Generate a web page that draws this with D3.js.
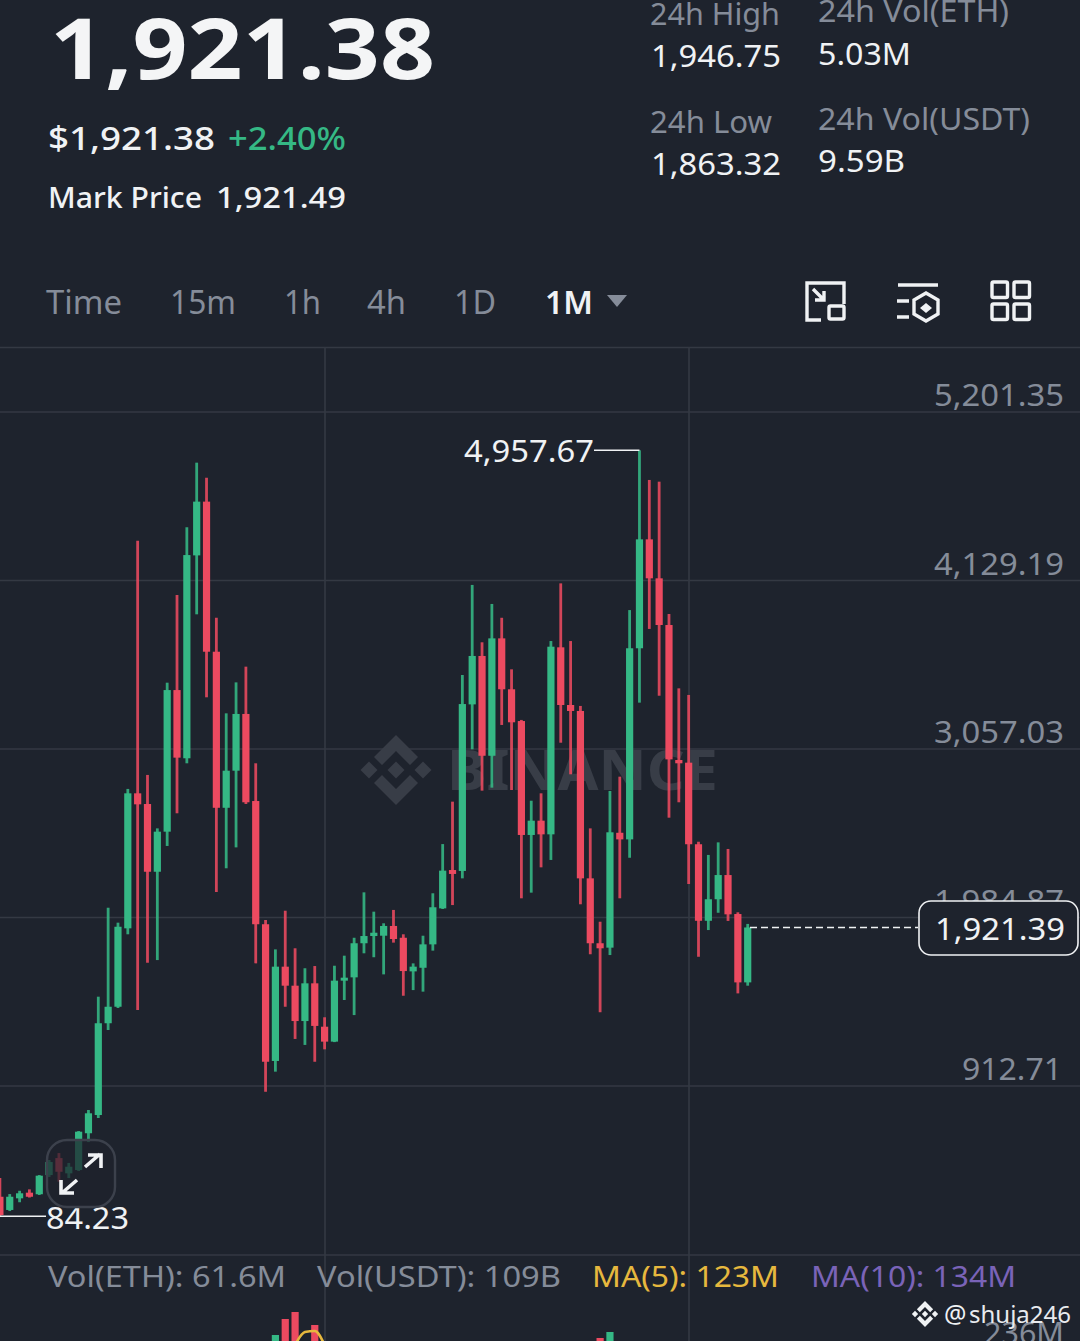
<!DOCTYPE html>
<html><head><meta charset="utf-8">
<script src="https://cdn.jsdelivr.net/npm/d3@7/dist/d3.min.js"></script>
<style>html,body{margin:0;padding:0;background:#1e232d;overflow:hidden}svg{display:block}text{font-family:"Noto Sans",sans-serif}</style>
</head><body><svg id="c" width="1080" height="1341"></svg>
<script>
// OHLC values
const highs=[327,225,246,255,346,442,486,423,626,760,1481,2047,1952,2803,4382,2892,2552,3479,4037,4468,4879,4783,3892,3284,3481,3581,2966,1969,1782,2028,1789,1662,1676,1350,1678,1742,1856,2145,2022,1948,2033,1878,1693,1869,2139,2452,2722,3528,4101,3736,3980,3892,3564,3242,2728,2775,3744,4111,3744,3331,2552,1958,2790,2881,3941,4957.67,4769,4758,3916,3443,3401,2467,2383,2463,2421,2018,1944];
const opens=[208,124,198,234,224,346,454,357,378,612,728,1312,1417,1916,2775,2707,2276,2531,3432,2998,4289,4631,3676,2683,2919,3280,2726,1942,1072,1672,1551,1326,1566,1290,1195,1583,1604,1821,1867,1869,1931,1856,1642,1665,1814,2043,2287,2281,3341,3649,3014,3761,3437,3235,2510,2601,2514,3704,3337,3299,2234,1821,1793,2524,2482,3698,4391,4143,3846,2987,2970,2451,1964,2101,2255,2007,1572];
const closes=[92,208,230,208,342,429,367,399,622,739,1312,1417,1926,2775,2705,2276,2531,3432,3002,4291,4631,3676,2683,2919,3280,2718,1942,1067,1672,1551,1326,1566,1295,1195,1583,1602,1821,1867,1888,1931,1848,1644,1672,1814,2050,2283,2262,3343,3649,3014,3761,3437,3227,2510,2601,2514,3708,3337,3299,2234,1821,1789,2527,2482,3698,4391,4143,3846,2991,2966,2451,1964,2101,2255,2005,1572,1921.39];
const lows=[84.23,117,173,203,219,334,304,327,372,556,709,1269,1409,1878,1396,1697,1714,2440,2648,2966,3914,3386,2147,2298,2431,2707,1693,876,1004,1417,1212,1174,1067,1146,1192,1460,1364,1757,1732,1623,1825,1487,1523,1513,1774,2039,2064,2234,3055,2792,2811,3210,2796,2107,2143,2304,2351,3097,2896,2069,1751,1382,1746,2107,2365,3352,3821,3396,2620,2718,2198,1735,1905,2015,1963,1502,1551];
const priceTicks=[5201.35,4129.19,3057.03,1984.87,912.71];
const priceTickLabels=["5,201.35","4,129.19","3,057.03","1,984.87","912.71"];
const volIdx=[28,29,30,32,61,62];
const volVals=[250,266,273,260,247,253];
const volGreen=[true,false,false,false,false,true];
const ma5Idx=[30,31,32,33];
const ma5Vals=[240,253,254,240];
const periods=["Time","15m","1h","4h","1D","1M"];
const periodX=[46,170,284,367,454,545];
const periodW=[76,66,37,39,42,48];
const lastPrice=1921.39, highPrice=4957.67, lowPrice=84.23;

const bg="#1e232d",green="#35b885",red="#ec4a60",grey="#858c99",gridC="#343943",white="#f0f2f4";
const svg=d3.select("#c");
svg.append("rect").attr("width",1080).attr("height",1341).attr("fill",bg);
const T=(x,y,s,size,fill,weight,anchor,w)=>{const t=svg.append("text").attr("x",x).attr("y",y).text(s).attr("font-size",size).attr("fill",fill).attr("font-weight",weight||400).attr("text-anchor",anchor||"start");
 if(w)t.attr("textLength",w).attr("lengthAdjust","spacingAndGlyphs");return t;};

// header
T(50,79,"1,921.38",84,"#f4f5f6",700,"start",385);
T(48,150,"$1,921.38",32,white,500,"start",167);
T(228,150,"+2.40%",32,green,500,"start",118);
T(48,208,"Mark Price",29.5,white,500,"start",154);
T(216,208,"1,921.49",29.5,white,500,"start",130);
T(650,25,"24h High",30.5,grey,400,"start",130);T(651,67,"1,946.75",30.5,white,400,"start",130);
T(650,133,"24h Low",30.5,grey,400,"start",122);T(651,175,"1,863.32",30.5,white,400,"start",130);
T(818,22,"24h Vol(ETH)",30.5,grey,400,"start",191);T(818,65,"5.03M",30.5,white,400,"start",93);
T(818,130,"24h Vol(USDT)",30.5,grey,400,"start",212);T(818,172,"9.59B",30.5,white,400,"start",87);

// toolbar
periods.forEach((p,i)=>T(periodX[i],314,p,32.5,i==5?white:grey,i==5?600:400,"start",periodW[i]));
svg.append("path").attr("d","M607 295H627L617 307Z").attr("fill",grey);
const ic=svg.append("g").attr("fill","none").attr("stroke",white).attr("stroke-width",3.4);
ic.append("path").attr("d","M821 320H807V283H844V304M813 289L824 300M824 291V300H815");
ic.append("rect").attr("x",829).attr("y",306).attr("width",15).attr("height",13).attr("rx",1.5);
ic.append("path").attr("d","M898 285H938M897 301H909M897 317H909");
ic.append("path").attr("d","M926 294L938 301V315L926 322L914 315V301Z").attr("transform","translate(0,-1)");
svg.append("path").attr("d","M926 303L932 308L926 313L920 308Z").attr("fill",white);
[[992,282],[1014,282],[992,304],[1014,304]].forEach(p=>ic.append("rect").attr("x",p[0]).attr("y",p[1]).attr("width",15.5).attr("height",15.5).attr("rx",1.5));

// scales
const y=d3.scaleLinear().domain([912.71,5201.35]).range([1086,412]);
const x=d3.scaleLinear().domain([0,76]).range([-0.1,747.7]);
const yv=d3.scaleLinear().domain([236,273]).range([1349,1312]);

// grid
const g=svg.append("g").attr("stroke",gridC).attr("stroke-width",1.6);
g.append("line").attr("x1",0).attr("x2",1080).attr("y1",347.5).attr("y2",347.5);
priceTicks.forEach(v=>g.append("line").attr("x1",0).attr("x2",1080).attr("y1",y(v)).attr("y2",y(v)));
g.append("line").attr("x1",0).attr("x2",1080).attr("y1",1255).attr("y2",1255);
[325,689].forEach(v=>g.append("line").attr("x1",v).attr("x2",v).attr("y1",347).attr("y2",1341));

// watermark
const logo=(cx,cy,s,fill)=>{const d=svg.append("g").attr("fill",fill).attr("transform",`translate(${cx},${cy}) scale(${s})`);
 d.append("path").attr("d","M0 -35L22 -13L14 -5L0 -19L-14 -5L-22 -13Z");
 d.append("path").attr("d","M0 35L22 13L14 5L0 19L-14 5L-22 13Z");
 d.append("path").attr("d","M0 -8.5L8.5 0L0 8.5L-8.5 0Z");
 d.append("path").attr("d","M-27 -8.5L-18.5 0L-27 8.5L-35.5 0Z");
 d.append("path").attr("d","M27 -8.5L35.5 0L27 8.5L18.5 0Z");};
logo(396,770,1,"#383d47");
svg.append("text").attr("x",447).attr("y",790).text("BINANCE").attr("font-size",56).attr("font-weight",700).attr("fill","#383d47").attr("textLength",271).attr("lengthAdjust","spacingAndGlyphs");

// candles
const idx=d3.range(highs.length);
const col=i=>closes[i]>=opens[i]?green:red;
svg.append("g").selectAll("line").data(idx).join("line")
 .attr("x1",i=>x(i)).attr("x2",i=>x(i)).attr("y1",i=>y(highs[i])).attr("y2",i=>y(lows[i]))
 .attr("stroke",col).attr("stroke-width",2.8).attr("stroke-opacity",.88);
svg.append("g").selectAll("rect").data(idx).join("rect")
 .attr("x",i=>x(i)-3.6).attr("width",7.2)
 .attr("y",i=>y(Math.max(opens[i],closes[i])))
 .attr("height",i=>Math.max(2.5,Math.abs(y(opens[i])-y(closes[i]))))
 .attr("fill",col);

// axis labels
priceTickLabels.forEach((s,i)=>T(i==4?1062:1064,y(priceTicks[i])-6,s,31,grey,400,"end",i==4?100:130));

// last price
svg.append("line").attr("x1",750).attr("x2",918).attr("y1",y(lastPrice)).attr("y2",y(lastPrice)).attr("stroke",white).attr("stroke-width",1.6).attr("stroke-dasharray","7 4");
svg.append("rect").attr("x",919).attr("y",901).attr("width",159).attr("height",54).attr("rx",12).attr("fill",bg).attr("stroke",white).attr("stroke-width",1.6);
T(1000,940,"1,921.39",31,white,400,"middle",130);

// high / low annotation
svg.append("line").attr("x1",594).attr("x2",x(65)).attr("y1",y(highPrice)).attr("y2",y(highPrice)).attr("stroke",white).attr("stroke-width",1.6);
T(464,462,"4,957.67",31,white,400,"start",130);
svg.append("line").attr("x1",0).attr("x2",46).attr("y1",y(lowPrice)).attr("y2",y(lowPrice)).attr("stroke",white).attr("stroke-width",1.6);
T(46,1229,"84.23",31,white,400,"start",83);

// zoom button
svg.append("rect").attr("x",47).attr("y",1140).attr("width",68).attr("height",67).attr("rx",20).attr("fill",bg).attr("fill-opacity",.72).attr("stroke","#3c414c").attr("stroke-width",2.4);
svg.append("path").attr("d","M85 1167L100 1154M88 1155H101V1168M77 1180L62 1193M61 1180V1193H74").attr("fill","none").attr("stroke",white).attr("stroke-width",3.6);

// volume
T(48,1287,"Vol(ETH): 61.6M",29.5,grey,400,"start",238);
T(317,1287,"Vol(USDT): 109B",29.5,grey,400,"start",244);
T(592,1287,"MA(5): 123M",29.5,"#e6b83e",400,"start",187);
T(811,1287,"MA(10): 134M",29.5,"#7a63b8",400,"start",205);
svg.append("g").selectAll("rect").data(volIdx).join("rect")
 .attr("x",i=>x(i)-3.6).attr("width",7.2).attr("y",(i,k)=>yv(volVals[k])).attr("height",(i,k)=>1349-yv(volVals[k]))
 .attr("fill",(i,k)=>volGreen[k]?green:red);
svg.append("path").datum(ma5Idx).attr("fill","none").attr("stroke","#e6b83e").attr("stroke-width",2.6)
 .attr("d",d3.line().x(i=>x(i)).y((i,k)=>yv(ma5Vals[k])).curve(d3.curveMonotoneX));
T(1064,1344,"236M",31,grey,400,"end",80);

// credit
logo(925,1314,.37,"#f0f2f4");
T(944,1323,"@",25,"#f0f2f4");
T(969,1323,"shuja246",24,"#e8eaee");
</script></body></html>
